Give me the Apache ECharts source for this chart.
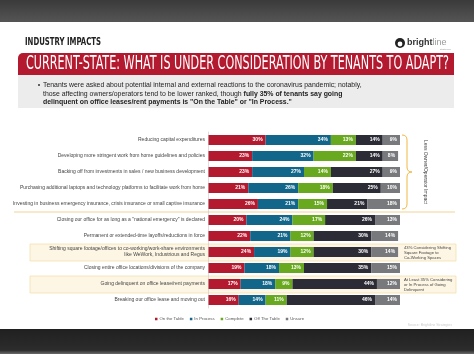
<!DOCTYPE html>
<html>
<head>
<meta charset="utf-8">
<script src="https://cdn.jsdelivr.net/npm/echarts@6/dist/echarts.min.js"></script>
<style>
  html, body { margin: 0; padding: 0; background: #fff; }
  #chart { width: 474px; height: 354px; }
</style>
</head>
<body>
<div id="chart"></div>
<script>
// 行标签
const categories = [
  'Reducing capital expenditures',
  'Developing more stringent work from home guidelines and policies',
  'Backing off from investments in sales / new business development',
  'Purchasing additional laptops and technology platforms to facilitate work from home',
  'Investing in business emergency insurance, crisis insurance or small captive insurance',
  'Closing our office for as long as a "national emergency" is declared',
  'Permanent or extended-time layoffs/reductions in force',
  'Shifting square footage/offices to co-working/work-share environments\nlike WeWork, Industrious and Regus',
  'Closing entire office locations/divisions of the company',
  'Going delinquent on office lease/rent payments',
  'Breaking our office lease and moving out'
];
const seriesNames = ['On the Table', 'In Process', 'Complete', 'Off The Table', 'Unsure'];
const onTable   = [30, 23, 23, 21, 26, 20, 22, 24, 19, 17, 16];
const inProcess = [34, 32, 27, 26, 21, 24, 21, 19, 18, 18, 14];
const complete  = [13, 22, 14, 18, 15, 17, 12, 12, 13, 9, 11];
const offTable  = [14, 14, 27, 25, 21, 26, 30, 30, 35, 44, 46];
const unsure    = [9, 8, 9, 10, 18, 13, 14, 14, 15, 12, 14];
const colors = ['#b41a2f', '#11668a', '#69a91f', '#2b2c36', '#78797c'];

const chart = echarts.init(document.getElementById('chart'));

// 标题横向压缩，适配宽度
function fitScale(text, font, width) {
  const ctx = document.createElement('canvas').getContext('2d');
  ctx.font = font;
  return width / ctx.measureText(text).width;
}
const titleText = 'CURRENT-STATE: WHAT IS UNDER CONSIDERATION BY TENANTS TO ADAPT?';
const titleFont = '19px "Liberation Sans Narrow", "DejaVu Sans Condensed", sans-serif';
const titleScale = fitScale(titleText, titleFont, 423);
const headText = 'INDUSTRY IMPACTS';
const headFont = 'bold 11px "Liberation Sans Narrow", "DejaVu Sans Condensed", sans-serif';
const headScale = fitScale(headText, headFont, 76);

const barLabel = {
  show: true,
  position: 'insideRight',
  distance: 3,
  formatter: '{c}%',
  color: '#fff',
  fontSize: 5,
  fontWeight: 'bold',
  fontFamily: 'Liberation Sans'
};
const seriesData = [onTable, inProcess, complete, offTable, unsure];

// 花括号
const braceStyle = { stroke: '#efb842', lineWidth: 1, fill: null };
const brace = [
  { type: 'bezierCurve', z: 5, shape: { x1: 402, y1: 135, x2: 407, y2: 140, cpx1: 407, cpy1: 135 }, style: braceStyle },
  { type: 'line', z: 5, shape: { x1: 407, y1: 140, x2: 407, y2: 167 }, style: braceStyle },
  { type: 'bezierCurve', z: 5, shape: { x1: 407, y1: 167, x2: 412, y2: 172, cpx1: 407, cpy1: 172 }, style: braceStyle },
  { type: 'bezierCurve', z: 5, shape: { x1: 412, y1: 172, x2: 407, y2: 177, cpx1: 407, cpy1: 172 }, style: braceStyle },
  { type: 'line', z: 5, shape: { x1: 407, y1: 177, x2: 407, y2: 204 }, style: braceStyle },
  { type: 'bezierCurve', z: 5, shape: { x1: 407, y1: 204, x2: 402, y2: 209, cpx1: 407, cpy1: 209 }, style: braceStyle }
];

const option = {
  animation: false,
  grid: { left: 208, right: 74, top: 132, bottom: 46 },
  xAxis: { type: 'value', min: 0, max: 100, show: false },
  yAxis: {
    type: 'category',
    inverse: true,
    z: 4,
    data: categories,
    axisLine: { show: true, lineStyle: { color: '#c8c8c8', width: 0.6 } },
    axisTick: { show: false },
    axisLabel: {
      interval: 0,
      margin: 3,
      fontSize: 5,
      lineHeight: 6,
      color: '#444',
      fontFamily: 'Liberation Sans',
      align: 'right'
    }
  },
  legend: {
    left: 150,
    top: 312,
    icon: 'rect',
    itemWidth: 2.5,
    itemHeight: 2.5,
    itemGap: 6,
    textStyle: { fontSize: 4.3, color: '#555', fontFamily: 'Liberation Sans', padding: [0, 0, 0, -3] },
    data: seriesNames
  },
  series: seriesNames.map((name, i) => ({
    name: name,
    type: 'bar',
    stack: 'total',
    barWidth: 10,
    z: 3,
    itemStyle: { color: colors[i] },
    label: barLabel,
    data: seriesData[i]
  })),
  graphic: [
    // 上方深色条
    {
      type: 'rect', z: 0,
      shape: { x: 0, y: 0, width: 474, height: 22 },
      style: { fill: new echarts.graphic.LinearGradient(0, 0, 0, 1, [
        { offset: 0, color: '#3a3a3a' }, { offset: 1, color: '#555' }
      ]) }
    },
    // 下方深色条
    {
      type: 'rect', z: 0,
      shape: { x: 0, y: 329, width: 474, height: 25 },
      style: { fill: new echarts.graphic.LinearGradient(0, 0, 0, 1, [
        { offset: 0, color: '#202020' }, { offset: 0.85, color: '#2c2c2c' }, { offset: 1, color: '#6a6a6a' }
      ]) }
    },
    {
      type: 'text', z: 5, x: 25, y: 37,
      scaleX: headScale,
      style: { text: headText, font: headFont, fill: '#222' }
    },
    // logo
    {
      type: 'circle', z: 5,
      shape: { cx: 400, cy: 43, r: 5 },
      style: { fill: '#222' }
    },
    {
      type: 'circle', z: 5,
      shape: { cx: 400, cy: 44, r: 2.4 },
      style: { fill: '#fff' }
    },
    {
      type: 'text', z: 5, x: 407, y: 38,
      style: {
        text: '{a|bright}{b|line}',
        rich: {
          a: { fontSize: 9, fontWeight: 'bold', fill: '#333', fontFamily: 'Liberation Sans' },
          b: { fontSize: 9, fill: '#999', fontFamily: 'Liberation Sans' }
        }
      }
    },
    {
      type: 'text', z: 5, x: 440, y: 48,
      style: { text: 'strategies', fontSize: 2.5, fill: '#999' }
    },
    // 红色标题条
    {
      type: 'rect', z: 1,
      shape: { x: 18, y: 53, width: 436, height: 22, r: [5, 0, 0, 0] },
      style: { fill: '#b41a2f' }
    },
    {
      type: 'text', z: 5, x: 26, y: 55,
      scaleX: titleScale,
      style: { text: titleText, font: titleFont, fill: '#fff' }
    },
    // 灰色说明框
    {
      type: 'rect', z: 1,
      shape: { x: 18, y: 75, width: 436, height: 33 },
      style: { fill: '#ececec' }
    },
    {
      type: 'circle', z: 5,
      shape: { cx: 39, cy: 85, r: 1 },
      style: { fill: '#333' }
    },
    {
      type: 'text', z: 5, x: 43, y: 81,
      style: {
        text: 'Tenants were asked about potential internal and external reactions to the coronavirus pandemic; notably,\n' +
          'those affecting owners/operators tend to be lower ranked, though {b|fully 35% of tenants say going}\n' +
          '{b|delinquent on office leases/rent payments is "On the Table" or "In Process."}',
        fontSize: 6.9,
        lineHeight: 8.5,
        fill: '#222',
        fontFamily: 'Liberation Sans',
        rich: {
          b: { fontSize: 6.9, fontWeight: 'bold', fill: '#222', fontFamily: 'Liberation Sans', lineHeight: 8.5 }
        }
      }
    },
    // 分隔线
    {
      type: 'line', z: 1,
      shape: { x1: 14, y1: 212, x2: 455, y2: 212 },
      style: { stroke: '#ecc87a', lineWidth: 0.8 }
    },
    // 高亮行
    {
      type: 'rect', z: 1,
      shape: { x: 30, y: 244, width: 426, height: 17 },
      style: { fill: '#fdf6e4', stroke: '#f0dca8', lineWidth: 0.7 }
    },
    {
      type: 'rect', z: 1,
      shape: { x: 30, y: 276, width: 426, height: 17 },
      style: { fill: '#fdf6e4', stroke: '#f0dca8', lineWidth: 0.7 }
    },
    {
      type: 'text', z: 5, x: 404, y: 246,
      style: {
        text: '43% Considering Shifting\nSquare Footage to\nCo-Working Spaces',
        fontSize: 4.2, lineHeight: 4.6, fill: '#444', fontFamily: 'Liberation Sans'
      }
    },
    {
      type: 'text', z: 5, x: 404, y: 278,
      style: {
        text: 'At Least 35% Considering\nor In Process of Going\nDelinquent',
        fontSize: 4.2, lineHeight: 4.6, fill: '#444', fontFamily: 'Liberation Sans'
      }
    },
    ...brace,
    {
      type: 'text', z: 5, x: 425, y: 172,
      rotation: -Math.PI / 2,
      style: {
        text: 'Less Owner/Operator Impact',
        fontSize: 5, fill: '#444', fontFamily: 'Liberation Sans',
        align: 'center', verticalAlign: 'middle'
      }
    },
    {
      type: 'text', z: 5, x: 452, y: 323,
      style: {
        text: 'Source: Brightline Strategies',
        fontSize: 3.5, fill: '#ccc', align: 'right', fontFamily: 'Liberation Sans'
      }
    }
  ]
};
chart.setOption(option);
</script>
</body>
</html>
